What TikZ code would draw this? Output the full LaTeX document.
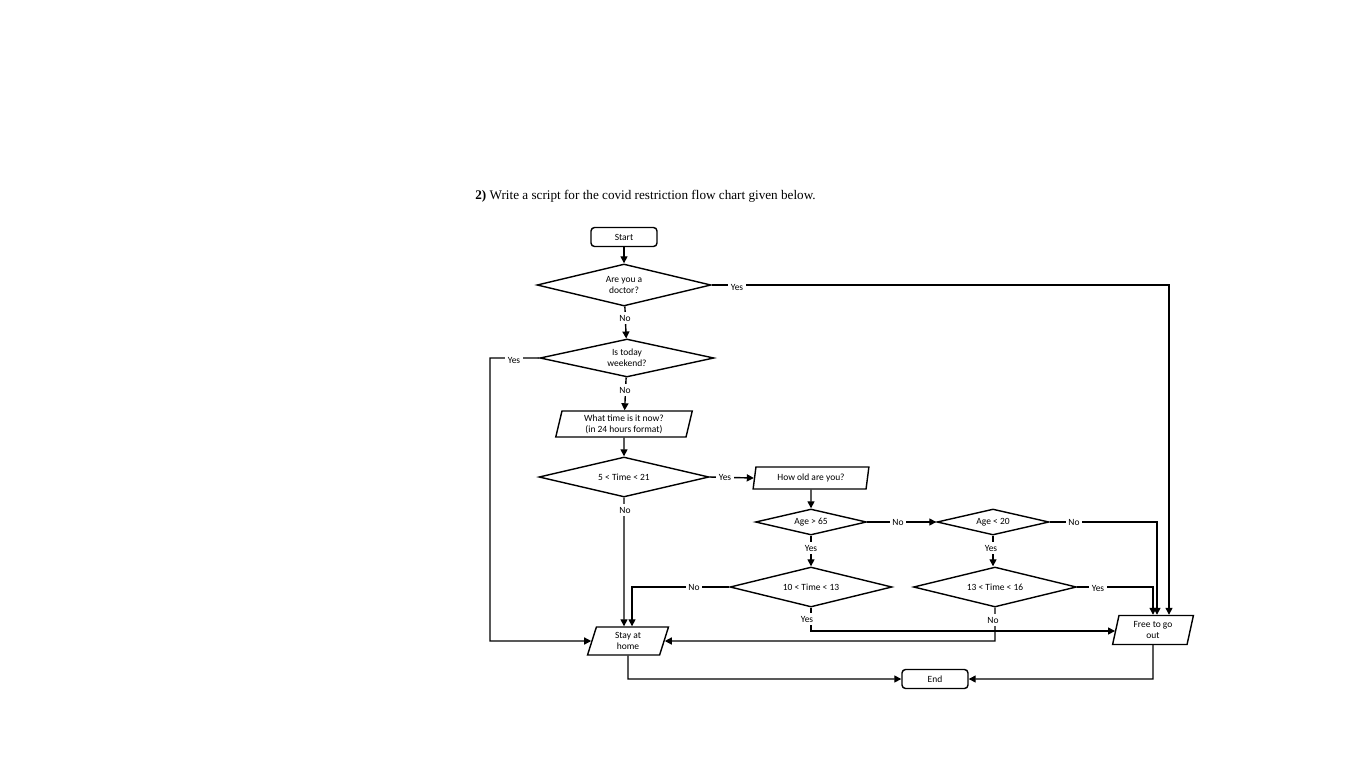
\documentclass[tikz,border=0pt]{standalone}
\usepackage{fontspec}
\setmainfont{Liberation Serif}
\newfontfamily\flowfont{Carlito}
\usetikzlibrary{shapes.geometric,arrows.meta}
\begin{document}
\begin{tikzpicture}[x=0.02cm,y=-0.02cm,
    every node/.style={font=\flowfont\fontsize{5.4}{6.2}\selectfont, inner sep=0pt, align=center},
    term/.style={draw, rounded corners=2pt, line width=0.8pt, minimum width=1.32cm, minimum height=0.38cm},
    dec/.style={draw, diamond, line width=0.8pt, aspect=4},
    io/.style={draw, trapezium, trapezium left angle=78, trapezium right angle=102, trapezium stretches=true, line width=0.8pt},
    lbl/.style={fill=white, inner sep=1.5pt},
    line/.style={line width=0.8pt},
    arr/.style={line width=0.8pt, -{Triangle[length=4pt,width=4pt]}}]
    \useasboundingbox (0,0) rectangle (1366,768);

    % Title
    \node[anchor=west, font=\fontsize{7.5}{9}\selectfont] (title) at (475,196) {\textbf{2)} Write a script for the covid restriction flow chart given below.};

    % Nodes
    \node[term] (start) at (624,237) {Start};
    \node[dec, minimum width=3.48cm, minimum height=0.84cm] (doc) at (624,285) {Are you a\\doctor?};
    \node[dec, minimum width=3.48cm, minimum height=0.76cm] (wkd) at (627,358) {Is today\\weekend?};
    \node[io, minimum width=2.74cm, minimum height=0.52cm] (ask) at (624,424) {What time is it now?\\(in 24 hours format)};
    \node[dec, minimum width=3.4cm, minimum height=0.8cm] (t1) at (624,477) {5 < Time < 21};
    \node[io, minimum width=2.32cm, minimum height=0.44cm] (age) at (811,478) {How old are you?};
    \node[dec, minimum width=2.22cm, minimum height=0.52cm] (a65) at (811,522) {Age > 65};
    \node[dec, minimum width=2.24cm, minimum height=0.52cm] (a20) at (993,522) {Age < 20};
    \node[dec, minimum width=3.24cm, minimum height=0.8cm] (t2) at (811,587) {10 < Time < 13};
    \node[dec, minimum width=3.26cm, minimum height=0.8cm] (t3) at (995,587) {13 < Time < 16};
    \node[io, minimum width=1.62cm, minimum height=0.56cm] (stay) at (628,641) {Stay at\\home};
    \node[io, minimum width=1.62cm, minimum height=0.58cm] (free) at (1153,630) {Free to go\\out};
    \node[term] (end) at (935,679) {End};

    % Corner points
    \coordinate (c1) at (1169,285);
    \coordinate (c2) at (490,358);
    \coordinate (c3) at (490,641);
    \coordinate (c4) at (1157,522);
    \coordinate (c5) at (632,587);
    \coordinate (c6) at (1153,587);
    \coordinate (c7) at (811,631);
    \coordinate (c8) at (995,641);
    \coordinate (c9) at (628,679);
    \coordinate (c10) at (1153,679);

    % Connectors
    \draw[arr] (start) -- (doc);
    \draw[arr] (doc.east) -- (c1) -- (c1 |- free.north);
    \node[lbl] (ydoc) at (737,287) {Yes};
    \draw[arr] (doc) -- (wkd);
    \node[lbl] (ndoc) at (625,318) {No};
    \draw[arr] (wkd.west) -- (c2) -- (c3) -- (stay.west);
    \node[lbl] (ywkd) at (514,360) {Yes};
    \draw[arr] (wkd) -- (ask);
    \node[lbl] (nwkd) at (625,390) {No};
    \draw[arr] (ask) -- (t1);
    \draw[arr] (t1.east) -- (age.west);
    \node[lbl] (yt1) at (725,477) {Yes};
    \draw[arr] (t1.south) -- ([xshift=-0.08cm]stay.north);
    \node[lbl] (nt1) at (625,510) {No};
    \draw[arr] (age) -- (a65);
    \draw[arr] (a65.east) -- (a20.west);
    \node[lbl] (na65) at (898,522) {No};
    \draw[arr] (a20.east) -- (c4) -- (c4 |- free.north);
    \node[lbl] (na20) at (1074,522) {No};
    \draw[arr] (a65) -- (t2);
    \node[lbl] (ya65) at (811,548) {Yes};
    \draw[arr] (a20) -- (a20 |- t3.north);
    \node[lbl] (ya20) at (991,548) {Yes};
    \draw[arr] (t2.west) -- (c5) -- (c5 |- stay.north);
    \node[lbl] (nt2) at (694,587) {No};
    \draw[arr] (t3.east) -- (c6) -- (c6 |- free.north);
    \node[lbl] (yt3) at (1098,588) {Yes};
    \draw[arr] (t2.south) -- (c7) -- (c7 -| free.west);
    \node[lbl] (yt2) at (807,619) {Yes};
    \draw[arr] (t3.south) -- (c8) -- (stay.east);
    \node[lbl] (nt3) at (993,620) {No};
    \draw[arr] (stay.south) -- (c9) -- (end.west);
    \draw[arr] (free.south) -- (c10) -- (end.east);
\end{tikzpicture}
\end{document}
